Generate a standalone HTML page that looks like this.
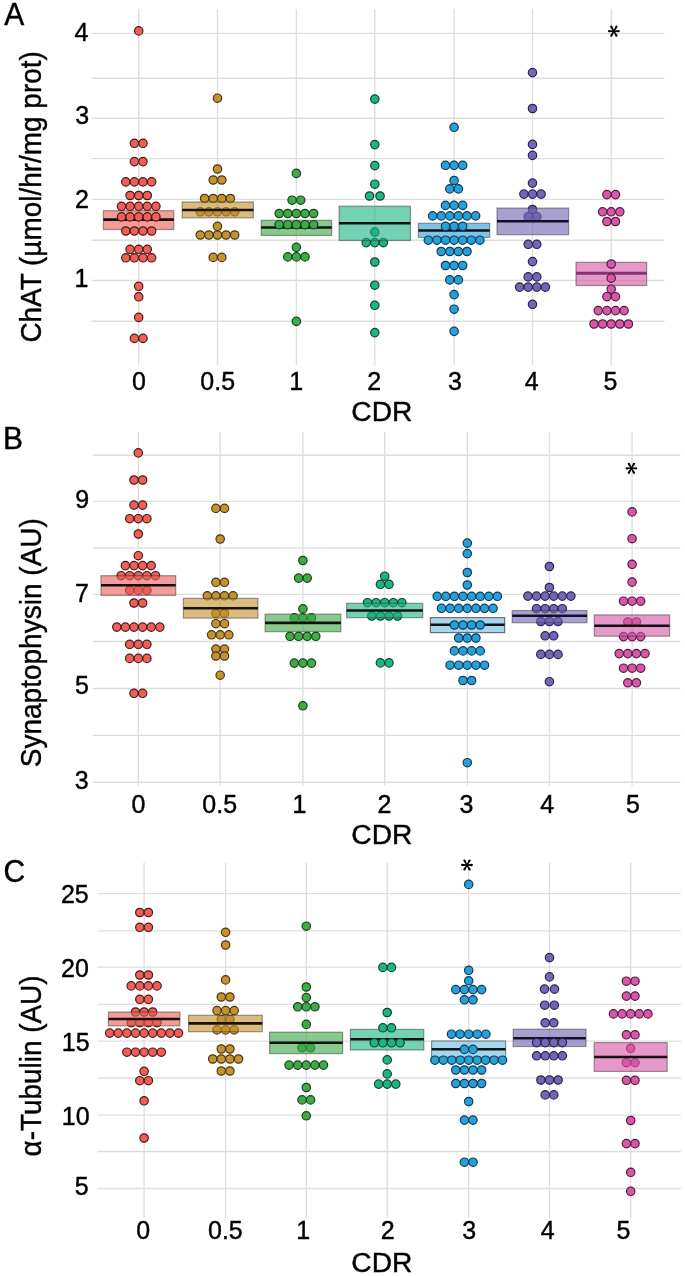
<!DOCTYPE html><html><head><meta charset="utf-8"><style>html,body{margin:0;padding:0;background:#fff;}svg{display:block;will-change:transform;}text{font-family:"Liberation Sans",sans-serif;fill:#000;stroke:#000;stroke-width:0.42px;}</style></head><body>
<svg width="685" height="1276" viewBox="0 0 685 1276">
<rect width="685" height="1276" fill="#fff"/>
<g stroke="#DEDEDE" stroke-width="1.35"><line x1="91.5" x2="664.5" y1="33.4" y2="33.4"/><line x1="91.5" x2="664.5" y1="78.2" y2="78.2"/><line x1="91.5" x2="664.5" y1="118.2" y2="118.2"/><line x1="91.5" x2="664.5" y1="158.6" y2="158.6"/><line x1="91.5" x2="664.5" y1="199.4" y2="199.4"/><line x1="91.5" x2="664.5" y1="240.2" y2="240.2"/><line x1="91.5" x2="664.5" y1="280.5" y2="280.5"/><line x1="91.5" x2="664.5" y1="321.2" y2="321.2"/><line x1="138.7" x2="138.7" y1="9" y2="365"/><line x1="217.5" x2="217.5" y1="9" y2="365"/><line x1="296.4" x2="296.4" y1="9" y2="365"/><line x1="374.8" x2="374.8" y1="9" y2="365"/><line x1="454.1" x2="454.1" y1="9" y2="365"/><line x1="532.5" x2="532.5" y1="9" y2="365"/><line x1="611.2" x2="611.2" y1="9" y2="365"/></g>
<rect x="103.4" y="210.7" width="70.4" height="18.8" fill="#EE5F58" fill-opacity="0.62" stroke="#3A3A3A" stroke-opacity="0.5" stroke-width="1.2"/><line x1="103.4" x2="173.8" y1="219.6" y2="219.6" stroke="#111111" stroke-width="2.6"/><g fill="#EE5F58" stroke="#4B1A18" stroke-width="1.2"><circle cx="138.7" cy="30.9" r="4.2"/><circle cx="134.4" cy="143.3" r="4.2"/><circle cx="143" cy="143.3" r="4.2"/><circle cx="134.4" cy="161.6" r="4.2"/><circle cx="143" cy="161.6" r="4.2"/><circle cx="125.8" cy="181.9" r="4.2"/><circle cx="134.4" cy="181.9" r="4.2"/><circle cx="143" cy="181.9" r="4.2"/><circle cx="151.6" cy="181.9" r="4.2"/><circle cx="130.1" cy="195.5" r="4.2"/><circle cx="138.7" cy="195.5" r="4.2"/><circle cx="147.3" cy="195.5" r="4.2"/><circle cx="121.5" cy="206.3" r="4.2"/><circle cx="130.1" cy="206.3" r="4.2"/><circle cx="138.7" cy="206.3" r="4.2"/><circle cx="147.3" cy="206.3" r="4.2"/><circle cx="155.9" cy="206.3" r="4.2"/><circle cx="121.5" cy="216.9" r="4.2"/><circle cx="130.1" cy="216.9" r="4.2"/><circle cx="138.7" cy="216.9" r="4.2"/><circle cx="147.3" cy="216.9" r="4.2"/><circle cx="155.9" cy="216.9" r="4.2"/><circle cx="125.8" cy="231" r="4.2"/><circle cx="134.4" cy="231" r="4.2"/><circle cx="143" cy="231" r="4.2"/><circle cx="151.6" cy="231" r="4.2"/><circle cx="130.1" cy="249.3" r="4.2"/><circle cx="138.7" cy="249.3" r="4.2"/><circle cx="147.3" cy="249.3" r="4.2"/><circle cx="125.8" cy="257.8" r="4.2"/><circle cx="134.4" cy="257.8" r="4.2"/><circle cx="143" cy="257.8" r="4.2"/><circle cx="151.6" cy="257.8" r="4.2"/><circle cx="138.7" cy="286.3" r="4.2"/><circle cx="138.7" cy="296.8" r="4.2"/><circle cx="138.7" cy="317.4" r="4.2"/><circle cx="134.4" cy="338.4" r="4.2"/><circle cx="143" cy="338.4" r="4.2"/></g>
<g fill="#C4932F" stroke="#4A3710" stroke-width="1.2"><circle cx="217.5" cy="98.2" r="4.2"/><circle cx="217.5" cy="169" r="4.2"/><circle cx="213.2" cy="180" r="4.2"/><circle cx="221.8" cy="180" r="4.2"/><circle cx="204.6" cy="198.5" r="4.2"/><circle cx="213.2" cy="198.5" r="4.2"/><circle cx="221.8" cy="198.5" r="4.2"/><circle cx="230.4" cy="198.5" r="4.2"/><circle cx="200.3" cy="211.8" r="4.2"/><circle cx="208.9" cy="211.8" r="4.2"/><circle cx="217.5" cy="211.8" r="4.2"/><circle cx="226.1" cy="211.8" r="4.2"/><circle cx="234.7" cy="211.8" r="4.2"/><circle cx="217.5" cy="226.3" r="4.2"/><circle cx="200.3" cy="235" r="4.2"/><circle cx="208.9" cy="235" r="4.2"/><circle cx="217.5" cy="235" r="4.2"/><circle cx="226.1" cy="235" r="4.2"/><circle cx="234.7" cy="235" r="4.2"/><circle cx="213.2" cy="257.4" r="4.2"/><circle cx="221.8" cy="257.4" r="4.2"/></g><rect x="182.2" y="202" width="71.2" height="15.8" fill="#C4932F" fill-opacity="0.62" stroke="#3A3A3A" stroke-opacity="0.5" stroke-width="1.2"/><line x1="182.2" x2="253.4" y1="210" y2="210" stroke="#1A1208" stroke-width="2.6"/>
<rect x="261.2" y="220.3" width="70.5" height="15.1" fill="#3FAA47" fill-opacity="0.62" stroke="#3A3A3A" stroke-opacity="0.5" stroke-width="1.2"/><line x1="261.2" x2="331.7" y1="227.5" y2="227.5" stroke="#111111" stroke-width="2.6"/><g fill="#3FAA47" stroke="#17441B" stroke-width="1.2"><circle cx="296.4" cy="173.4" r="4.2"/><circle cx="292.1" cy="200.2" r="4.2"/><circle cx="300.7" cy="200.2" r="4.2"/><circle cx="279.2" cy="213.5" r="4.2"/><circle cx="287.8" cy="213.5" r="4.2"/><circle cx="296.4" cy="213.5" r="4.2"/><circle cx="305" cy="213.5" r="4.2"/><circle cx="313.6" cy="213.5" r="4.2"/><circle cx="279.2" cy="224.7" r="4.2"/><circle cx="287.8" cy="224.7" r="4.2"/><circle cx="296.4" cy="224.7" r="4.2"/><circle cx="305" cy="224.7" r="4.2"/><circle cx="313.6" cy="224.7" r="4.2"/><circle cx="296.4" cy="247.3" r="4.2"/><circle cx="287.8" cy="256.9" r="4.2"/><circle cx="296.4" cy="256.9" r="4.2"/><circle cx="305" cy="256.9" r="4.2"/><circle cx="296.4" cy="321.4" r="4.2"/></g>
<g fill="#1EB584" stroke="#0D4535" stroke-width="1.2"><circle cx="374.8" cy="99.1" r="4.2"/><circle cx="374.8" cy="144.6" r="4.2"/><circle cx="374.8" cy="165.6" r="4.2"/><circle cx="374.8" cy="184.2" r="4.2"/><circle cx="369.55" cy="196" r="4.2"/><circle cx="380.05" cy="196" r="4.2"/><circle cx="374.8" cy="232.1" r="4.2"/><circle cx="366.2" cy="242.6" r="4.2"/><circle cx="374.8" cy="242.6" r="4.2"/><circle cx="383.4" cy="242.6" r="4.2"/><circle cx="374.8" cy="262" r="4.2"/><circle cx="374.8" cy="285.2" r="4.2"/><circle cx="374.8" cy="305.3" r="4.2"/><circle cx="374.8" cy="332.6" r="4.2"/></g><rect x="339.1" y="206.2" width="71.3" height="34.3" fill="#1EB584" fill-opacity="0.62" stroke="#3A3A3A" stroke-opacity="0.5" stroke-width="1.2"/><line x1="339.1" x2="410.4" y1="223.3" y2="223.3" stroke="#111111" stroke-width="2.6"/>
<rect x="418.4" y="223.3" width="71.3" height="14.2" fill="#27A0DA" fill-opacity="0.62" stroke="#3A3A3A" stroke-opacity="0.5" stroke-width="1.2"/><line x1="418.4" x2="489.7" y1="230.5" y2="230.5" stroke="#111111" stroke-width="2.6"/><g fill="#27A0DA" stroke="#0F3B57" stroke-width="1.2"><circle cx="454.1" cy="127.3" r="4.2"/><circle cx="445.5" cy="165.3" r="4.2"/><circle cx="454.1" cy="165.3" r="4.2"/><circle cx="462.7" cy="165.3" r="4.2"/><circle cx="454.1" cy="180.5" r="4.2"/><circle cx="449.8" cy="188.9" r="4.2"/><circle cx="458.4" cy="188.9" r="4.2"/><circle cx="445.5" cy="205.4" r="4.2"/><circle cx="454.1" cy="205.4" r="4.2"/><circle cx="462.7" cy="205.4" r="4.2"/><circle cx="432.6" cy="215.9" r="4.2"/><circle cx="441.2" cy="215.9" r="4.2"/><circle cx="449.8" cy="215.9" r="4.2"/><circle cx="458.4" cy="215.9" r="4.2"/><circle cx="467" cy="215.9" r="4.2"/><circle cx="475.6" cy="215.9" r="4.2"/><circle cx="445.5" cy="226.3" r="4.2"/><circle cx="454.1" cy="226.3" r="4.2"/><circle cx="462.7" cy="226.3" r="4.2"/><circle cx="428.3" cy="240.2" r="4.2"/><circle cx="436.9" cy="240.2" r="4.2"/><circle cx="445.5" cy="240.2" r="4.2"/><circle cx="454.1" cy="240.2" r="4.2"/><circle cx="462.7" cy="240.2" r="4.2"/><circle cx="471.3" cy="240.2" r="4.2"/><circle cx="479.9" cy="240.2" r="4.2"/><circle cx="441.2" cy="251.5" r="4.2"/><circle cx="449.8" cy="251.5" r="4.2"/><circle cx="458.4" cy="251.5" r="4.2"/><circle cx="467" cy="251.5" r="4.2"/><circle cx="445.5" cy="265.5" r="4.2"/><circle cx="454.1" cy="265.5" r="4.2"/><circle cx="462.7" cy="265.5" r="4.2"/><circle cx="449.8" cy="279.9" r="4.2"/><circle cx="458.4" cy="279.9" r="4.2"/><circle cx="454.1" cy="294.6" r="4.2"/><circle cx="454.1" cy="309.2" r="4.2"/><circle cx="454.1" cy="331.4" r="4.2"/></g>
<g fill="#7565B6" stroke="#2A2350" stroke-width="1.2"><circle cx="532.5" cy="72.6" r="4.2"/><circle cx="532.5" cy="108.5" r="4.2"/><circle cx="532.5" cy="144.4" r="4.2"/><circle cx="532.5" cy="155.4" r="4.2"/><circle cx="532.5" cy="183.1" r="4.2"/><circle cx="523.9" cy="194.1" r="4.2"/><circle cx="532.5" cy="194.1" r="4.2"/><circle cx="541.1" cy="194.1" r="4.2"/><circle cx="532.5" cy="209.5" r="4.2"/><circle cx="528.2" cy="216.7" r="4.2"/><circle cx="536.8" cy="216.7" r="4.2"/><circle cx="528.2" cy="244.3" r="4.2"/><circle cx="536.8" cy="244.3" r="4.2"/><circle cx="532.5" cy="261.6" r="4.2"/><circle cx="528.2" cy="276.9" r="4.2"/><circle cx="536.8" cy="276.9" r="4.2"/><circle cx="519.6" cy="287.1" r="4.2"/><circle cx="528.2" cy="287.1" r="4.2"/><circle cx="536.8" cy="287.1" r="4.2"/><circle cx="545.4" cy="287.1" r="4.2"/><circle cx="532.5" cy="304.3" r="4.2"/></g><rect x="497" y="208.1" width="71.6" height="26.6" fill="#7565B6" fill-opacity="0.62" stroke="#3A3A3A" stroke-opacity="0.5" stroke-width="1.2"/><line x1="497" x2="568.6" y1="221.3" y2="221.3" stroke="#140F22" stroke-width="2.6"/>
<rect x="576" y="262.3" width="70.7" height="23.2" fill="#D658A6" fill-opacity="0.62" stroke="#3A3A3A" stroke-opacity="0.5" stroke-width="1.2"/><line x1="576" x2="646.7" y1="273.3" y2="273.3" stroke="#85336F" stroke-width="2.9"/><g fill="#D658A6" stroke="#561A41" stroke-width="1.2"><circle cx="606.9" cy="194.6" r="4.2"/><circle cx="615.5" cy="194.6" r="4.2"/><circle cx="602.6" cy="211.8" r="4.2"/><circle cx="611.2" cy="211.8" r="4.2"/><circle cx="619.8" cy="211.8" r="4.2"/><circle cx="606.9" cy="221.5" r="4.2"/><circle cx="615.5" cy="221.5" r="4.2"/><circle cx="611.2" cy="264" r="4.2"/><circle cx="611.2" cy="278.2" r="4.2"/><circle cx="611.2" cy="289.2" r="4.2"/><circle cx="606.9" cy="296.7" r="4.2"/><circle cx="615.5" cy="296.7" r="4.2"/><circle cx="598.3" cy="310.6" r="4.2"/><circle cx="606.9" cy="310.6" r="4.2"/><circle cx="615.5" cy="310.6" r="4.2"/><circle cx="624.1" cy="310.6" r="4.2"/><circle cx="594" cy="324" r="4.2"/><circle cx="602.6" cy="324" r="4.2"/><circle cx="611.2" cy="324" r="4.2"/><circle cx="619.8" cy="324" r="4.2"/><circle cx="628.4" cy="324" r="4.2"/></g>
<path d="M613.9,31.75L618.65,32.35L618.65,30.05L613.9,30.65ZM619.8,31.2a1.15,1.15 0 1 0 -2.3,0a1.15,1.15 0 1 0 2.3,0ZM613.42,31.47L615.48,36.24L617.47,35.09L614.38,30.93ZM617.62,35.66a1.15,1.15 0 1 0 -2.3,0a1.15,1.15 0 1 0 2.3,0ZM613.42,30.93L610.33,35.09L612.32,36.24L614.38,31.47ZM612.47,35.66a1.15,1.15 0 1 0 -2.3,0a1.15,1.15 0 1 0 2.3,0ZM613.9,30.65L609.15,30.05L609.15,32.35L613.9,31.75ZM610.3,31.2a1.15,1.15 0 1 0 -2.3,0a1.15,1.15 0 1 0 2.3,0ZM614.38,30.93L612.32,26.16L610.33,27.31L613.42,31.47ZM612.47,26.74a1.15,1.15 0 1 0 -2.3,0a1.15,1.15 0 1 0 2.3,0ZM614.38,31.47L617.47,27.31L615.48,26.16L613.42,30.93ZM617.62,26.74a1.15,1.15 0 1 0 -2.3,0a1.15,1.15 0 1 0 2.3,0Z" fill="#000"/><circle cx="613.9" cy="31.2" r="1.1" fill="#000"/>
<text x="81.5" y="40.9" font-size="25" text-anchor="middle">4</text>
<text x="82.1" y="124" font-size="25" text-anchor="middle">3</text>
<text x="81.9" y="208.2" font-size="25" text-anchor="middle">2</text>
<text x="81.4" y="287.3" font-size="25" text-anchor="middle">1</text>
<text x="138.9" y="390" font-size="25" text-anchor="middle">0</text>
<text x="217.7" y="390" font-size="25" text-anchor="middle">0.5</text>
<text x="296.2" y="390" font-size="25" text-anchor="middle">1</text>
<text x="374.2" y="390" font-size="25" text-anchor="middle">2</text>
<text x="454.9" y="390" font-size="25" text-anchor="middle">3</text>
<text x="531.7" y="390" font-size="25" text-anchor="middle">4</text>
<text x="610.5" y="390" font-size="25" text-anchor="middle">5</text>
<text x="351.3" y="420.75" font-size="28.2">CDR</text>
<text transform="translate(40.8,342.6) rotate(-90)" x="0" y="0" font-size="28.7" textLength="291.4" lengthAdjust="spacingAndGlyphs">ChAT (µmol/hr/mg prot)</text>
<text x="4.2" y="24.7" font-size="31.2" textLength="19.98" lengthAdjust="spacingAndGlyphs">A</text>
<g stroke="#DEDEDE" stroke-width="1.35"><line x1="92.8" x2="680.5" y1="455.2" y2="455.2"/><line x1="92.8" x2="680.5" y1="501.4" y2="501.4"/><line x1="92.8" x2="680.5" y1="548.1" y2="548.1"/><line x1="92.8" x2="680.5" y1="594.4" y2="594.4"/><line x1="92.8" x2="680.5" y1="641.5" y2="641.5"/><line x1="92.8" x2="680.5" y1="688.5" y2="688.5"/><line x1="92.8" x2="680.5" y1="735.3" y2="735.3"/><line x1="92.8" x2="680.5" y1="782.2" y2="782.2"/><line x1="138.3" x2="138.3" y1="432" y2="785.5"/><line x1="220.2" x2="220.2" y1="432" y2="785.5"/><line x1="302.9" x2="302.9" y1="432" y2="785.5"/><line x1="384.7" x2="384.7" y1="432" y2="785.5"/><line x1="467.3" x2="467.3" y1="432" y2="785.5"/><line x1="549.4" x2="549.4" y1="432" y2="785.5"/><line x1="632.1" x2="632.1" y1="432" y2="785.5"/></g>
<g fill="#EE5F58" stroke="#4B1A18" stroke-width="1.2"><circle cx="138.3" cy="452.9" r="4.2"/><circle cx="134" cy="480" r="4.2"/><circle cx="142.6" cy="480" r="4.2"/><circle cx="134" cy="505.1" r="4.2"/><circle cx="142.6" cy="505.1" r="4.2"/><circle cx="129.7" cy="518.7" r="4.2"/><circle cx="138.3" cy="518.7" r="4.2"/><circle cx="146.9" cy="518.7" r="4.2"/><circle cx="138.3" cy="534" r="4.2"/><circle cx="138.3" cy="555.7" r="4.2"/><circle cx="125.4" cy="565.6" r="4.2"/><circle cx="134" cy="565.6" r="4.2"/><circle cx="142.6" cy="565.6" r="4.2"/><circle cx="151.2" cy="565.6" r="4.2"/><circle cx="121.1" cy="575.7" r="4.2"/><circle cx="129.7" cy="575.7" r="4.2"/><circle cx="138.3" cy="575.7" r="4.2"/><circle cx="146.9" cy="575.7" r="4.2"/><circle cx="155.5" cy="575.7" r="4.2"/><circle cx="129.7" cy="590.4" r="4.2"/><circle cx="138.3" cy="590.4" r="4.2"/><circle cx="146.9" cy="590.4" r="4.2"/><circle cx="134" cy="603" r="4.2"/><circle cx="142.6" cy="603" r="4.2"/><circle cx="116.8" cy="627.1" r="4.2"/><circle cx="125.4" cy="627.1" r="4.2"/><circle cx="134" cy="627.1" r="4.2"/><circle cx="142.6" cy="627.1" r="4.2"/><circle cx="151.2" cy="627.1" r="4.2"/><circle cx="159.8" cy="627.1" r="4.2"/><circle cx="129.7" cy="644.3" r="4.2"/><circle cx="138.3" cy="644.3" r="4.2"/><circle cx="146.9" cy="644.3" r="4.2"/><circle cx="129.7" cy="658.4" r="4.2"/><circle cx="138.3" cy="658.4" r="4.2"/><circle cx="146.9" cy="658.4" r="4.2"/><circle cx="134" cy="693.3" r="4.2"/><circle cx="142.6" cy="693.3" r="4.2"/></g><rect x="101" y="575.7" width="74.7" height="19.7" fill="#EE5F58" fill-opacity="0.62" stroke="#3A3A3A" stroke-opacity="0.5" stroke-width="1.2"/><line x1="101" x2="175.7" y1="585.3" y2="585.3" stroke="#111111" stroke-width="2.6"/>
<g fill="#C4932F" stroke="#4A3710" stroke-width="1.2"><circle cx="215.9" cy="508.4" r="4.2"/><circle cx="224.5" cy="508.4" r="4.2"/><circle cx="220.2" cy="539" r="4.2"/><circle cx="215.9" cy="582.3" r="4.2"/><circle cx="224.5" cy="582.3" r="4.2"/><circle cx="207.3" cy="595.8" r="4.2"/><circle cx="215.9" cy="595.8" r="4.2"/><circle cx="224.5" cy="595.8" r="4.2"/><circle cx="233.1" cy="595.8" r="4.2"/><circle cx="215.9" cy="613.5" r="4.2"/><circle cx="224.5" cy="613.5" r="4.2"/><circle cx="215.9" cy="623.7" r="4.2"/><circle cx="224.5" cy="623.7" r="4.2"/><circle cx="211.6" cy="634.8" r="4.2"/><circle cx="220.2" cy="634.8" r="4.2"/><circle cx="228.8" cy="634.8" r="4.2"/><circle cx="215.9" cy="649.1" r="4.2"/><circle cx="224.5" cy="649.1" r="4.2"/><circle cx="215.9" cy="656" r="4.2"/><circle cx="224.5" cy="656" r="4.2"/><circle cx="220.2" cy="675.2" r="4.2"/></g><rect x="183.4" y="598.4" width="74.5" height="19.7" fill="#C4932F" fill-opacity="0.62" stroke="#3A3A3A" stroke-opacity="0.5" stroke-width="1.2"/><line x1="183.4" x2="257.9" y1="608.3" y2="608.3" stroke="#1A1208" stroke-width="2.6"/>
<g fill="#3FAA47" stroke="#17441B" stroke-width="1.2"><circle cx="302.9" cy="560.5" r="4.2"/><circle cx="298.6" cy="578.1" r="4.2"/><circle cx="307.2" cy="578.1" r="4.2"/><circle cx="302.9" cy="608.9" r="4.2"/><circle cx="294.3" cy="617.9" r="4.2"/><circle cx="302.9" cy="617.9" r="4.2"/><circle cx="311.5" cy="617.9" r="4.2"/><circle cx="290" cy="636.3" r="4.2"/><circle cx="298.6" cy="636.3" r="4.2"/><circle cx="307.2" cy="636.3" r="4.2"/><circle cx="315.8" cy="636.3" r="4.2"/><circle cx="294.3" cy="663.1" r="4.2"/><circle cx="302.9" cy="663.1" r="4.2"/><circle cx="311.5" cy="663.1" r="4.2"/><circle cx="302.9" cy="705.8" r="4.2"/></g><rect x="265.1" y="614.1" width="75.7" height="17.6" fill="#3FAA47" fill-opacity="0.62" stroke="#3A3A3A" stroke-opacity="0.5" stroke-width="1.2"/><line x1="265.1" x2="340.8" y1="622.9" y2="622.9" stroke="#111111" stroke-width="2.6"/>
<g fill="#1EB584" stroke="#0D4535" stroke-width="1.2"><circle cx="384.7" cy="576.2" r="4.2"/><circle cx="380.4" cy="584.3" r="4.2"/><circle cx="389" cy="584.3" r="4.2"/><circle cx="367.5" cy="602.7" r="4.2"/><circle cx="376.1" cy="602.7" r="4.2"/><circle cx="384.7" cy="602.7" r="4.2"/><circle cx="393.3" cy="602.7" r="4.2"/><circle cx="401.9" cy="602.7" r="4.2"/><circle cx="371.8" cy="616" r="4.2"/><circle cx="380.4" cy="616" r="4.2"/><circle cx="389" cy="616" r="4.2"/><circle cx="397.6" cy="616" r="4.2"/><circle cx="380.4" cy="662.9" r="4.2"/><circle cx="389" cy="662.9" r="4.2"/></g><rect x="346.6" y="603.3" width="76.2" height="14.4" fill="#1EB584" fill-opacity="0.62" stroke="#3A3A3A" stroke-opacity="0.5" stroke-width="1.2"/><line x1="346.6" x2="422.8" y1="610.5" y2="610.5" stroke="#111111" stroke-width="2.6"/>
<rect x="430.4" y="617.6" width="74.2" height="15" fill="#27A0DA" fill-opacity="0.42" stroke="#6E6E6E" stroke-opacity="1" stroke-width="1.2"/><line x1="430.4" x2="504.6" y1="624.8" y2="624.8" stroke="#111111" stroke-width="2.6"/><g fill="#27A0DA" stroke="#0F3B57" stroke-width="1.2"><circle cx="467.3" cy="543.1" r="4.2"/><circle cx="467.3" cy="553.6" r="4.2"/><circle cx="467.3" cy="572.5" r="4.2"/><circle cx="467.3" cy="585" r="4.2"/><circle cx="437.2" cy="596.3" r="4.2"/><circle cx="445.8" cy="596.3" r="4.2"/><circle cx="454.4" cy="596.3" r="4.2"/><circle cx="463" cy="596.3" r="4.2"/><circle cx="471.6" cy="596.3" r="4.2"/><circle cx="480.2" cy="596.3" r="4.2"/><circle cx="488.8" cy="596.3" r="4.2"/><circle cx="497.4" cy="596.3" r="4.2"/><circle cx="441.5" cy="608.3" r="4.2"/><circle cx="450.1" cy="608.3" r="4.2"/><circle cx="458.7" cy="608.3" r="4.2"/><circle cx="467.3" cy="608.3" r="4.2"/><circle cx="475.9" cy="608.3" r="4.2"/><circle cx="484.5" cy="608.3" r="4.2"/><circle cx="493.1" cy="608.3" r="4.2"/><circle cx="454.4" cy="625" r="4.2"/><circle cx="463" cy="625" r="4.2"/><circle cx="471.6" cy="625" r="4.2"/><circle cx="480.2" cy="625" r="4.2"/><circle cx="458.7" cy="638" r="4.2"/><circle cx="467.3" cy="638" r="4.2"/><circle cx="475.9" cy="638" r="4.2"/><circle cx="454.4" cy="650.9" r="4.2"/><circle cx="463" cy="650.9" r="4.2"/><circle cx="471.6" cy="650.9" r="4.2"/><circle cx="480.2" cy="650.9" r="4.2"/><circle cx="450.1" cy="665.2" r="4.2"/><circle cx="458.7" cy="665.2" r="4.2"/><circle cx="467.3" cy="665.2" r="4.2"/><circle cx="475.9" cy="665.2" r="4.2"/><circle cx="484.5" cy="665.2" r="4.2"/><circle cx="463" cy="680.5" r="4.2"/><circle cx="471.6" cy="680.5" r="4.2"/><circle cx="467.3" cy="762.7" r="4.2"/></g>
<g fill="#7565B6" stroke="#2A2350" stroke-width="1.2"><circle cx="549.4" cy="566.5" r="4.2"/><circle cx="549.4" cy="587.5" r="4.2"/><circle cx="527.9" cy="596.1" r="4.2"/><circle cx="536.5" cy="596.1" r="4.2"/><circle cx="545.1" cy="596.1" r="4.2"/><circle cx="553.7" cy="596.1" r="4.2"/><circle cx="562.3" cy="596.1" r="4.2"/><circle cx="570.9" cy="596.1" r="4.2"/><circle cx="536.5" cy="608.7" r="4.2"/><circle cx="545.1" cy="608.7" r="4.2"/><circle cx="553.7" cy="608.7" r="4.2"/><circle cx="562.3" cy="608.7" r="4.2"/><circle cx="540.8" cy="621.5" r="4.2"/><circle cx="549.4" cy="621.5" r="4.2"/><circle cx="558" cy="621.5" r="4.2"/><circle cx="545.1" cy="635.8" r="4.2"/><circle cx="553.7" cy="635.8" r="4.2"/><circle cx="540.8" cy="654.4" r="4.2"/><circle cx="549.4" cy="654.4" r="4.2"/><circle cx="558" cy="654.4" r="4.2"/><circle cx="549.4" cy="681.7" r="4.2"/></g><rect x="512.2" y="610.5" width="74.8" height="12.2" fill="#7565B6" fill-opacity="0.62" stroke="#3A3A3A" stroke-opacity="0.5" stroke-width="1.2"/><line x1="512.2" x2="587" y1="615.8" y2="615.8" stroke="#140F22" stroke-width="2.6"/>
<g fill="#D658A6" stroke="#561A41" stroke-width="1.2"><circle cx="632.1" cy="511.9" r="4.2"/><circle cx="632.1" cy="538.7" r="4.2"/><circle cx="632.1" cy="564.3" r="4.2"/><circle cx="632.1" cy="582.1" r="4.2"/><circle cx="623.5" cy="601.2" r="4.2"/><circle cx="632.1" cy="601.2" r="4.2"/><circle cx="640.7" cy="601.2" r="4.2"/><circle cx="627.8" cy="622" r="4.2"/><circle cx="636.4" cy="622" r="4.2"/><circle cx="623.5" cy="636.6" r="4.2"/><circle cx="632.1" cy="636.6" r="4.2"/><circle cx="640.7" cy="636.6" r="4.2"/><circle cx="619.2" cy="653.6" r="4.2"/><circle cx="627.8" cy="653.6" r="4.2"/><circle cx="636.4" cy="653.6" r="4.2"/><circle cx="645" cy="653.6" r="4.2"/><circle cx="623.5" cy="668.2" r="4.2"/><circle cx="632.1" cy="668.2" r="4.2"/><circle cx="640.7" cy="668.2" r="4.2"/><circle cx="627.8" cy="682.8" r="4.2"/><circle cx="636.4" cy="682.8" r="4.2"/></g><rect x="594.3" y="614.9" width="75.3" height="21.3" fill="#D658A6" fill-opacity="0.62" stroke="#3A3A3A" stroke-opacity="0.5" stroke-width="1.2"/><line x1="594.3" x2="669.6" y1="625.7" y2="625.7" stroke="#111111" stroke-width="2.6"/>
<path d="M631.4,468.85L636.15,469.45L636.15,467.15L631.4,467.75ZM637.3,468.3a1.15,1.15 0 1 0 -2.3,0a1.15,1.15 0 1 0 2.3,0ZM630.92,468.57L632.98,473.34L634.97,472.19L631.88,468.03ZM635.12,472.76a1.15,1.15 0 1 0 -2.3,0a1.15,1.15 0 1 0 2.3,0ZM630.92,468.03L627.83,472.19L629.82,473.34L631.88,468.57ZM629.97,472.76a1.15,1.15 0 1 0 -2.3,0a1.15,1.15 0 1 0 2.3,0ZM631.4,467.75L626.65,467.15L626.65,469.45L631.4,468.85ZM627.8,468.3a1.15,1.15 0 1 0 -2.3,0a1.15,1.15 0 1 0 2.3,0ZM631.88,468.03L629.82,463.26L627.83,464.41L630.92,468.57ZM629.97,463.84a1.15,1.15 0 1 0 -2.3,0a1.15,1.15 0 1 0 2.3,0ZM631.88,468.57L634.97,464.41L632.98,463.26L630.92,468.03ZM635.12,463.84a1.15,1.15 0 1 0 -2.3,0a1.15,1.15 0 1 0 2.3,0Z" fill="#000"/><circle cx="631.4" cy="468.3" r="1.1" fill="#000"/>
<text x="82.1" y="508.4" font-size="25" text-anchor="middle">9</text>
<text x="82" y="602.1" font-size="25" text-anchor="middle">7</text>
<text x="82" y="694.4" font-size="25" text-anchor="middle">5</text>
<text x="81.8" y="789.4" font-size="25" text-anchor="middle">3</text>
<text x="138.4" y="813" font-size="25" text-anchor="middle">0</text>
<text x="219.7" y="813" font-size="25" text-anchor="middle">0.5</text>
<text x="299.4" y="813" font-size="25" text-anchor="middle">1</text>
<text x="384.5" y="813" font-size="25" text-anchor="middle">2</text>
<text x="466.4" y="813" font-size="25" text-anchor="middle">3</text>
<text x="547.3" y="813" font-size="25" text-anchor="middle">4</text>
<text x="633" y="813" font-size="25" text-anchor="middle">5</text>
<text x="351.3" y="843.85" font-size="28.2">CDR</text>
<text transform="translate(40.8,767.3) rotate(-90)" x="0" y="0" font-size="28.7" textLength="249.2" lengthAdjust="spacingAndGlyphs">Synaptophysin (AU)</text>
<text x="3.05" y="448.5" font-size="31.2" textLength="19.98" lengthAdjust="spacingAndGlyphs">B</text>
<g stroke="#DEDEDE" stroke-width="1.35"><line x1="97.4" x2="680.9" y1="893.6" y2="893.6"/><line x1="97.4" x2="680.9" y1="930.9" y2="930.9"/><line x1="97.4" x2="680.9" y1="967.1" y2="967.1"/><line x1="97.4" x2="680.9" y1="1004.3" y2="1004.3"/><line x1="97.4" x2="680.9" y1="1041.1" y2="1041.1"/><line x1="97.4" x2="680.9" y1="1078" y2="1078"/><line x1="97.4" x2="680.9" y1="1115.1" y2="1115.1"/><line x1="97.4" x2="680.9" y1="1151.5" y2="1151.5"/><line x1="97.4" x2="680.9" y1="1188.5" y2="1188.5"/><line x1="144.1" x2="144.1" y1="862.8" y2="1218"/><line x1="225.6" x2="225.6" y1="862.8" y2="1218"/><line x1="306.3" x2="306.3" y1="862.8" y2="1218"/><line x1="387.2" x2="387.2" y1="862.8" y2="1218"/><line x1="468.7" x2="468.7" y1="862.8" y2="1218"/><line x1="549.5" x2="549.5" y1="862.8" y2="1218"/><line x1="630.7" x2="630.7" y1="862.8" y2="1218"/></g>
<g fill="#EE5F58" stroke="#4B1A18" stroke-width="1.2"><circle cx="139.8" cy="912.5" r="4.2"/><circle cx="148.4" cy="912.5" r="4.2"/><circle cx="139.8" cy="927.3" r="4.2"/><circle cx="148.4" cy="927.3" r="4.2"/><circle cx="139.8" cy="975" r="4.2"/><circle cx="148.4" cy="975" r="4.2"/><circle cx="131.2" cy="985.9" r="4.2"/><circle cx="139.8" cy="985.9" r="4.2"/><circle cx="148.4" cy="985.9" r="4.2"/><circle cx="157" cy="985.9" r="4.2"/><circle cx="139.8" cy="999.3" r="4.2"/><circle cx="148.4" cy="999.3" r="4.2"/><circle cx="135.5" cy="1012" r="4.2"/><circle cx="144.1" cy="1012" r="4.2"/><circle cx="152.7" cy="1012" r="4.2"/><circle cx="131.2" cy="1022.6" r="4.2"/><circle cx="139.8" cy="1022.6" r="4.2"/><circle cx="148.4" cy="1022.6" r="4.2"/><circle cx="157" cy="1022.6" r="4.2"/><circle cx="109.7" cy="1033.1" r="4.2"/><circle cx="118.3" cy="1033.1" r="4.2"/><circle cx="126.9" cy="1033.1" r="4.2"/><circle cx="135.5" cy="1033.1" r="4.2"/><circle cx="144.1" cy="1033.1" r="4.2"/><circle cx="152.7" cy="1033.1" r="4.2"/><circle cx="161.3" cy="1033.1" r="4.2"/><circle cx="169.9" cy="1033.1" r="4.2"/><circle cx="178.5" cy="1033.1" r="4.2"/><circle cx="126.9" cy="1052.2" r="4.2"/><circle cx="135.5" cy="1052.2" r="4.2"/><circle cx="144.1" cy="1052.2" r="4.2"/><circle cx="152.7" cy="1052.2" r="4.2"/><circle cx="161.3" cy="1052.2" r="4.2"/><circle cx="144.1" cy="1071.3" r="4.2"/><circle cx="139.8" cy="1080.7" r="4.2"/><circle cx="148.4" cy="1080.7" r="4.2"/><circle cx="144.1" cy="1100.8" r="4.2"/><circle cx="144.1" cy="1138" r="4.2"/></g><rect x="108.4" y="1012" width="71.5" height="13.8" fill="#EE5F58" fill-opacity="0.62" stroke="#3A3A3A" stroke-opacity="0.5" stroke-width="1.2"/><line x1="108.4" x2="179.9" y1="1019" y2="1019" stroke="#111111" stroke-width="2.6"/>
<g fill="#C4932F" stroke="#4A3710" stroke-width="1.2"><circle cx="225.6" cy="932.3" r="4.2"/><circle cx="225.6" cy="945" r="4.2"/><circle cx="225.6" cy="979.9" r="4.2"/><circle cx="221.3" cy="997" r="4.2"/><circle cx="229.9" cy="997" r="4.2"/><circle cx="217" cy="1010.6" r="4.2"/><circle cx="225.6" cy="1010.6" r="4.2"/><circle cx="234.2" cy="1010.6" r="4.2"/><circle cx="221.3" cy="1019.3" r="4.2"/><circle cx="229.9" cy="1019.3" r="4.2"/><circle cx="217" cy="1029.9" r="4.2"/><circle cx="225.6" cy="1029.9" r="4.2"/><circle cx="234.2" cy="1029.9" r="4.2"/><circle cx="221.3" cy="1049" r="4.2"/><circle cx="229.9" cy="1049" r="4.2"/><circle cx="212.7" cy="1059" r="4.2"/><circle cx="221.3" cy="1059" r="4.2"/><circle cx="229.9" cy="1059" r="4.2"/><circle cx="238.5" cy="1059" r="4.2"/><circle cx="221.3" cy="1071" r="4.2"/><circle cx="229.9" cy="1071" r="4.2"/></g><rect x="188.6" y="1015.3" width="73.7" height="16.4" fill="#C4932F" fill-opacity="0.62" stroke="#3A3A3A" stroke-opacity="0.5" stroke-width="1.2"/><line x1="188.6" x2="262.3" y1="1023.4" y2="1023.4" stroke="#1A1208" stroke-width="2.6"/>
<g fill="#3FAA47" stroke="#17441B" stroke-width="1.2"><circle cx="306.3" cy="926.2" r="4.2"/><circle cx="306.3" cy="987" r="4.2"/><circle cx="306.3" cy="997.6" r="4.2"/><circle cx="297.7" cy="1006.8" r="4.2"/><circle cx="306.3" cy="1006.8" r="4.2"/><circle cx="314.9" cy="1006.8" r="4.2"/><circle cx="306.3" cy="1024.4" r="4.2"/><circle cx="302" cy="1047.8" r="4.2"/><circle cx="310.6" cy="1047.8" r="4.2"/><circle cx="289.1" cy="1065.1" r="4.2"/><circle cx="297.7" cy="1065.1" r="4.2"/><circle cx="306.3" cy="1065.1" r="4.2"/><circle cx="314.9" cy="1065.1" r="4.2"/><circle cx="323.5" cy="1065.1" r="4.2"/><circle cx="306.3" cy="1087.5" r="4.2"/><circle cx="302" cy="1099.9" r="4.2"/><circle cx="310.6" cy="1099.9" r="4.2"/><circle cx="306.3" cy="1115.8" r="4.2"/></g><rect x="269.6" y="1032.2" width="73" height="21.4" fill="#3FAA47" fill-opacity="0.62" stroke="#3A3A3A" stroke-opacity="0.5" stroke-width="1.2"/><line x1="269.6" x2="342.6" y1="1042.7" y2="1042.7" stroke="#111111" stroke-width="2.6"/>
<rect x="350.4" y="1029.4" width="73.4" height="20.6" fill="#1EB584" fill-opacity="0.62" stroke="#3A3A3A" stroke-opacity="0.5" stroke-width="1.2"/><line x1="350.4" x2="423.8" y1="1039.2" y2="1039.2" stroke="#111111" stroke-width="2.6"/><g fill="#1EB584" stroke="#0D4535" stroke-width="1.2"><circle cx="382.9" cy="967.4" r="4.2"/><circle cx="391.5" cy="967.4" r="4.2"/><circle cx="387.2" cy="1012.5" r="4.2"/><circle cx="382.9" cy="1027.8" r="4.2"/><circle cx="391.5" cy="1027.8" r="4.2"/><circle cx="374.3" cy="1042.8" r="4.2"/><circle cx="382.9" cy="1042.8" r="4.2"/><circle cx="391.5" cy="1042.8" r="4.2"/><circle cx="400.1" cy="1042.8" r="4.2"/><circle cx="387.2" cy="1059.9" r="4.2"/><circle cx="387.2" cy="1073.9" r="4.2"/><circle cx="378.6" cy="1084.1" r="4.2"/><circle cx="387.2" cy="1084.1" r="4.2"/><circle cx="395.8" cy="1084.1" r="4.2"/></g>
<rect x="431.6" y="1041" width="74" height="16.2" fill="#27A0DA" fill-opacity="0.42" stroke="#858585" stroke-opacity="1" stroke-width="1.2"/><line x1="431.6" x2="505.6" y1="1049.2" y2="1049.2" stroke="#111111" stroke-width="2.6"/><g fill="#27A0DA" stroke="#0F3B57" stroke-width="1.2"><circle cx="468.7" cy="884.4" r="4.2"/><circle cx="468.7" cy="970.3" r="4.2"/><circle cx="468.7" cy="980.8" r="4.2"/><circle cx="455.8" cy="989.6" r="4.2"/><circle cx="464.4" cy="989.6" r="4.2"/><circle cx="473" cy="989.6" r="4.2"/><circle cx="481.6" cy="989.6" r="4.2"/><circle cx="464.4" cy="999.8" r="4.2"/><circle cx="473" cy="999.8" r="4.2"/><circle cx="451.5" cy="1034.2" r="4.2"/><circle cx="460.1" cy="1034.2" r="4.2"/><circle cx="468.7" cy="1034.2" r="4.2"/><circle cx="477.3" cy="1034.2" r="4.2"/><circle cx="485.9" cy="1034.2" r="4.2"/><circle cx="464.4" cy="1049.4" r="4.2"/><circle cx="473" cy="1049.4" r="4.2"/><circle cx="434.9" cy="1060.2" r="4.2"/><circle cx="443.35" cy="1060.2" r="4.2"/><circle cx="451.8" cy="1060.2" r="4.2"/><circle cx="460.25" cy="1060.2" r="4.2"/><circle cx="468.7" cy="1060.2" r="4.2"/><circle cx="477.15" cy="1060.2" r="4.2"/><circle cx="485.6" cy="1060.2" r="4.2"/><circle cx="494.05" cy="1060.2" r="4.2"/><circle cx="502.5" cy="1060.2" r="4.2"/><circle cx="455.8" cy="1070" r="4.2"/><circle cx="464.4" cy="1070" r="4.2"/><circle cx="473" cy="1070" r="4.2"/><circle cx="481.6" cy="1070" r="4.2"/><circle cx="455.8" cy="1083.5" r="4.2"/><circle cx="464.4" cy="1083.5" r="4.2"/><circle cx="473" cy="1083.5" r="4.2"/><circle cx="481.6" cy="1083.5" r="4.2"/><circle cx="468.7" cy="1101.5" r="4.2"/><circle cx="464.4" cy="1120.1" r="4.2"/><circle cx="473" cy="1120.1" r="4.2"/><circle cx="464.4" cy="1162.2" r="4.2"/><circle cx="473" cy="1162.2" r="4.2"/></g>
<rect x="513.2" y="1029.2" width="72.8" height="17.3" fill="#7565B6" fill-opacity="0.62" stroke="#3A3A3A" stroke-opacity="0.5" stroke-width="1.2"/><line x1="513.2" x2="586" y1="1038.2" y2="1038.2" stroke="#140F22" stroke-width="2.6"/><g fill="#7565B6" stroke="#2A2350" stroke-width="1.2"><circle cx="549.5" cy="957.6" r="4.2"/><circle cx="549.5" cy="976.9" r="4.2"/><circle cx="544.5" cy="989.1" r="4.2"/><circle cx="554.5" cy="989.1" r="4.2"/><circle cx="544.7" cy="1005.2" r="4.2"/><circle cx="554.3" cy="1005.2" r="4.2"/><circle cx="545.2" cy="1022.8" r="4.2"/><circle cx="553.8" cy="1022.8" r="4.2"/><circle cx="536.6" cy="1042.6" r="4.2"/><circle cx="545.2" cy="1042.6" r="4.2"/><circle cx="553.8" cy="1042.6" r="4.2"/><circle cx="562.4" cy="1042.6" r="4.2"/><circle cx="536.6" cy="1055.8" r="4.2"/><circle cx="545.2" cy="1055.8" r="4.2"/><circle cx="553.8" cy="1055.8" r="4.2"/><circle cx="562.4" cy="1055.8" r="4.2"/><circle cx="540.9" cy="1080" r="4.2"/><circle cx="549.5" cy="1080" r="4.2"/><circle cx="558.1" cy="1080" r="4.2"/><circle cx="545.2" cy="1094.9" r="4.2"/><circle cx="553.8" cy="1094.9" r="4.2"/></g>
<g fill="#D658A6" stroke="#561A41" stroke-width="1.2"><circle cx="626.4" cy="981.2" r="4.2"/><circle cx="635" cy="981.2" r="4.2"/><circle cx="626.4" cy="996.1" r="4.2"/><circle cx="635" cy="996.1" r="4.2"/><circle cx="613.5" cy="1013.9" r="4.2"/><circle cx="622.1" cy="1013.9" r="4.2"/><circle cx="630.7" cy="1013.9" r="4.2"/><circle cx="639.3" cy="1013.9" r="4.2"/><circle cx="647.9" cy="1013.9" r="4.2"/><circle cx="626.4" cy="1034.8" r="4.2"/><circle cx="635" cy="1034.8" r="4.2"/><circle cx="630.7" cy="1048.3" r="4.2"/><circle cx="626.4" cy="1062.7" r="4.2"/><circle cx="635" cy="1062.7" r="4.2"/><circle cx="626.4" cy="1080.3" r="4.2"/><circle cx="635" cy="1080.3" r="4.2"/><circle cx="630.7" cy="1120.5" r="4.2"/><circle cx="626.4" cy="1143.6" r="4.2"/><circle cx="635" cy="1143.6" r="4.2"/><circle cx="630.7" cy="1172.3" r="4.2"/><circle cx="630.7" cy="1191.3" r="4.2"/></g><rect x="594.2" y="1042.6" width="73" height="28.8" fill="#D658A6" fill-opacity="0.62" stroke="#3A3A3A" stroke-opacity="0.5" stroke-width="1.2"/><line x1="594.2" x2="667.2" y1="1057" y2="1057" stroke="#111111" stroke-width="2.6"/>
<path d="M467,865.55L471.75,866.15L471.75,863.85L467,864.45ZM472.9,865a1.15,1.15 0 1 0 -2.3,0a1.15,1.15 0 1 0 2.3,0ZM466.52,865.27L468.58,870.04L470.57,868.89L467.48,864.73ZM470.72,869.46a1.15,1.15 0 1 0 -2.3,0a1.15,1.15 0 1 0 2.3,0ZM466.52,864.73L463.43,868.89L465.42,870.04L467.48,865.27ZM465.57,869.46a1.15,1.15 0 1 0 -2.3,0a1.15,1.15 0 1 0 2.3,0ZM467,864.45L462.25,863.85L462.25,866.15L467,865.55ZM463.4,865a1.15,1.15 0 1 0 -2.3,0a1.15,1.15 0 1 0 2.3,0ZM467.48,864.73L465.42,859.96L463.43,861.11L466.52,865.27ZM465.57,860.54a1.15,1.15 0 1 0 -2.3,0a1.15,1.15 0 1 0 2.3,0ZM467.48,865.27L470.57,861.11L468.58,859.96L466.52,864.73ZM470.72,860.54a1.15,1.15 0 1 0 -2.3,0a1.15,1.15 0 1 0 2.3,0Z" fill="#000"/><circle cx="467" cy="865" r="1.1" fill="#000"/>
<text x="74.8" y="902.8" font-size="25" text-anchor="middle">25</text>
<text x="74.9" y="977.3" font-size="25" text-anchor="middle">20</text>
<text x="75.7" y="1050.7" font-size="25" text-anchor="middle">15</text>
<text x="75.7" y="1124.5" font-size="25" text-anchor="middle">10</text>
<text x="81.7" y="1195.3" font-size="25" text-anchor="middle">5</text>
<text x="143.1" y="1239" font-size="25" text-anchor="middle">0</text>
<text x="225.4" y="1239" font-size="25" text-anchor="middle">0.5</text>
<text x="303.1" y="1239" font-size="25" text-anchor="middle">1</text>
<text x="387.6" y="1239" font-size="25" text-anchor="middle">2</text>
<text x="469.2" y="1239" font-size="25" text-anchor="middle">3</text>
<text x="547.7" y="1239" font-size="25" text-anchor="middle">4</text>
<text x="623.5" y="1239" font-size="25" text-anchor="middle">5</text>
<text x="351.3" y="1272.45" font-size="28.2">CDR</text>
<text transform="translate(40.8,1156.5) rotate(-90)" x="0" y="0" font-size="28.7" textLength="181" lengthAdjust="spacingAndGlyphs">α-Tubulin (AU)</text>
<text x="3.5" y="882.1" font-size="31.2" textLength="21.63" lengthAdjust="spacingAndGlyphs">C</text>
</svg></body></html>
